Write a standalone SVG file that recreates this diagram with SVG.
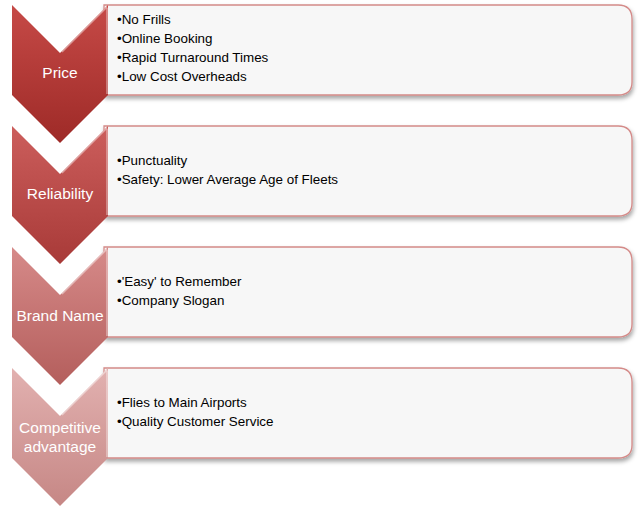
<svg xmlns="http://www.w3.org/2000/svg" width="639" height="517" viewBox="0 0 639 517">
<defs>
<linearGradient id="g1" x1="0" y1="0" x2="0" y2="1"><stop offset="0" stop-color="#c64a47"/><stop offset="1" stop-color="#9e2a27"/></linearGradient>
<linearGradient id="g2" x1="0" y1="0" x2="0" y2="1"><stop offset="0" stop-color="#cc5e5c"/><stop offset="1" stop-color="#a83a38"/></linearGradient>
<linearGradient id="g3" x1="0" y1="0" x2="0" y2="1"><stop offset="0" stop-color="#d68a89"/><stop offset="1" stop-color="#b45e5c"/></linearGradient>
<linearGradient id="g4" x1="0" y1="0" x2="0" y2="1"><stop offset="0" stop-color="#e2b1b0"/><stop offset="1" stop-color="#c68785"/></linearGradient>
<filter id="sh" x="-5%" y="-10%" width="110%" height="130%"><feDropShadow dx="1" dy="3" stdDeviation="2" flood-color="#000" flood-opacity="0.35"/></filter>
</defs>
<style>
.box{fill:#f7f7f7;stroke:#d48a88;stroke-width:1.3;filter:url(#sh)}
.chev{stroke:none}
.hl{fill:none;stroke:#ffffff;stroke-opacity:0.45;stroke-width:1.5}
.lbl{font-family:"Liberation Sans",Arial,sans-serif;font-size:15.5px;fill:#ffffff;text-anchor:middle}
.bt{font-family:"Liberation Sans",Arial,sans-serif;font-size:13.4px;fill:#000000}
</style>
<rect width="639" height="517" fill="#ffffff"/>
<g id="box1"><path class="box" d="M104,5 H618 Q632,5 632,19 V82 Q632,95 618,95 H104 Z"/>
<text class="bt" x="117" y="24">•No Frills</text><text class="bt" x="117" y="43">•Online Booking</text><text class="bt" x="117" y="62">•Rapid Turnaround Times</text><text class="bt" x="117" y="81">•Low Cost Overheads</text></g>
<g id="box2"><path class="box" d="M104,126 H618 Q632,126 632,140 V203 Q632,216 618,216 H104 Z"/>
<text class="bt" x="117" y="165">•Punctuality</text><text class="bt" x="117" y="184">•Safety: Lower Average Age of Fleets</text></g>
<g id="box3"><path class="box" d="M104,247 H618 Q632,247 632,261 V324 Q632,337 618,337 H104 Z"/>
<text class="bt" x="117" y="286">•'Easy' to Remember</text><text class="bt" x="117" y="305">•Company Slogan</text></g>
<g id="box4"><path class="box" d="M104,368 H618 Q632,368 632,382 V445 Q632,458 618,458 H104 Z"/>
<text class="bt" x="117" y="407">•Flies to Main Airports</text><text class="bt" x="117" y="426">•Quality Customer Service</text></g>
<g id="chev1"><path class="chev" fill="url(#g1)" d="M12,5 L60,53 L108,5 L108,95 L60,143 L12,95 Z"/><path class="hl" d="M62,52 L107,7 M107,8 V94"/><text class="lbl" x="60" y="78">Price</text></g>
<g id="chev2"><path class="chev" fill="url(#g2)" d="M12,126 L60,174 L108,126 L108,216 L60,264 L12,216 Z"/><path class="hl" d="M62,173 L107,128 M107,129 V215"/><text class="lbl" x="60" y="199">Reliability</text></g>
<g id="chev3"><path class="chev" fill="url(#g3)" d="M12,247 L60,295 L108,247 L108,337 L60,385 L12,337 Z"/><path class="hl" d="M62,294 L107,249 M107,250 V336"/><text class="lbl" x="60" y="321">Brand Name</text></g>
<g id="chev4"><path class="chev" fill="url(#g4)" d="M12,368 L60,416 L108,368 L108,458 L60,506 L12,458 Z"/><path class="hl" d="M62,415 L107,370 M107,371 V457"/><text class="lbl" x="60" y="433">Competitive</text><text class="lbl" x="60" y="452">advantage</text></g>
<g id="connectors"/>
</svg>
